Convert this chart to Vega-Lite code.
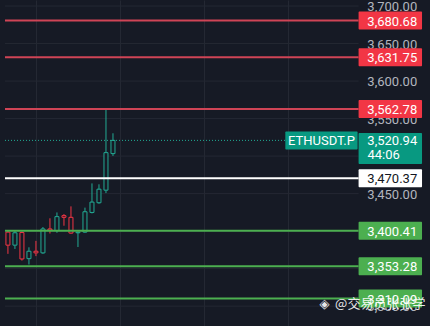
{
  "$schema": "https://vega.github.io/schema/vega-lite/v6.json",
  "width": 430,
  "height": 326,
  "autosize": {"type": "fit", "contains": "padding"},
  "padding": 0,
  "background": "#161a25",
  "config": {
    "view": {"stroke": null},
    "axis": {"gridColor": "#242833", "gridWidth": 1, "domain": false, "ticks": false}
  },
  "datasets": {
    "candles": [
      {"i": 1, "open": 3398.7, "high": 3400.5, "low": 3369.7, "close": 3381.3},
      {"i": 2, "open": 3381.3, "high": 3401.2, "low": 3376.2, "close": 3397.8},
      {"i": 3, "open": 3398.1, "high": 3399.5, "low": 3360.7, "close": 3362.9},
      {"i": 4, "open": 3363.3, "high": 3378.4, "low": 3355.5, "close": 3373.2},
      {"i": 5, "open": 3373.2, "high": 3387.0, "low": 3366.7, "close": 3371.0},
      {"i": 6, "open": 3371.0, "high": 3405.5, "low": 3369.7, "close": 3402.9},
      {"i": 7, "open": 3402.9, "high": 3417.1, "low": 3396.8, "close": 3401.2},
      {"i": 8, "open": 3400.7, "high": 3424.9, "low": 3397.8, "close": 3419.3},
      {"i": 9, "open": 3420.6, "high": 3422.7, "low": 3407.2, "close": 3418.4},
      {"i": 10, "open": 3418.4, "high": 3433.0, "low": 3396.5, "close": 3397.4},
      {"i": 11, "open": 3397.8, "high": 3399.2, "low": 3378.8, "close": 3398.7},
      {"i": 12, "open": 3398.7, "high": 3431.3, "low": 3397.8, "close": 3425.8},
      {"i": 13, "open": 3424.9, "high": 3463.6, "low": 3423.6, "close": 3438.7},
      {"i": 14, "open": 3437.8, "high": 3462.4, "low": 3436.5, "close": 3455.9},
      {"i": 15, "open": 3454.6, "high": 3562.7, "low": 3450.7, "close": 3504.6},
      {"i": 16, "open": 3503.3, "high": 3530.4, "low": 3500.2, "close": 3520.94}
    ],
    "ticks": [
      {"price": 3300, "shown": true}, {"price": 3350, "shown": false}, {"price": 3400, "shown": false},
      {"price": 3450, "shown": true}, {"price": 3500, "shown": false}, {"price": 3550, "shown": true},
      {"price": 3600, "shown": true}, {"price": 3650, "shown": true}, {"price": 3700, "shown": true}
    ],
    "levels": [
      {"price": 3680.68, "kind": "resistance"},
      {"price": 3631.75, "kind": "resistance"},
      {"price": 3562.78, "kind": "resistance"},
      {"price": 3470.37, "kind": "current"},
      {"price": 3400.41, "kind": "support"},
      {"price": 3353.28, "kind": "support"},
      {"price": 3310.09, "kind": "support"}
    ],
    "last": [{"price": 3520.94, "symbol": "ETHUSDT.P", "countdown": "44:06"}],
    "mark": [{"logo": "◈", "label": "@交易员张张学"}]
  },
  "resolve": {"scale": {"color": "independent"}},
  "layer": [
    {
      "data": {"name": "ticks"},
      "mark": {"type": "rule", "strokeWidth": 1, "color": "#242833"},
      "encoding": {
        "x": {"datum": 0.5816, "type": "quantitative",
              "scale": {"domain": [0.5816, 60.554], "nice": false, "zero": false},
              "axis": {"title": null, "orient": "bottom", "values": [5, 17, 29, 41], "labels": false, "grid": true}},
        "x2": {"datum": 51.07},
        "y": {"field": "price", "type": "quantitative",
              "scale": {"domain": [3280.2, 3701.4], "nice": false, "zero": false},
              "axis": null}
      }
    },
    {
      "data": {"name": "ticks"},
      "transform": [{"filter": "datum.shown"}],
      "mark": {"type": "text", "align": "right", "baseline": "middle", "font": "Roboto", "fontSize": 13, "color": "#b2b5be", "clip": true, "dy": 1},
      "encoding": {
        "x": {"datum": 59.44, "type": "quantitative"},
        "y": {"field": "price", "type": "quantitative"},
        "text": {"field": "price", "type": "quantitative", "format": ",.2f"}
      }
    },
    {
      "data": {"name": "candles"},
      "mark": {"type": "rule", "strokeWidth": 1, "clip": true},
      "encoding": {
        "x": {"field": "i", "type": "quantitative"},
        "y": {"field": "low", "type": "quantitative"},
        "y2": {"field": "high"},
        "color": {"condition": {"test": "datum.close >= datum.open", "value": "#22ab94"}, "value": "#f23645"}
      }
    },
    {
      "data": {"name": "candles"},
      "mark": {"type": "bar", "size": 4, "fill": "#161a25", "strokeWidth": 1, "clip": true},
      "encoding": {
        "x": {"field": "i", "type": "quantitative"},
        "y": {"field": "open", "type": "quantitative"},
        "y2": {"field": "close"},
        "stroke": {"condition": {"test": "datum.close >= datum.open", "value": "#22ab94"}, "value": "#f23645"}
      }
    },
    {
      "data": {"name": "levels"},
      "mark": {"type": "rule", "strokeWidth": 2, "clip": true},
      "encoding": {
        "x": {"datum": 0.5816, "type": "quantitative"},
        "x2": {"datum": 51.07},
        "y": {"field": "price", "type": "quantitative"},
        "color": {"field": "kind", "type": "nominal", "legend": null,
                  "scale": {"domain": ["resistance", "current", "support"], "range": ["#cf4456", "#ffffff", "#4caf50"]}}
      }
    },
    {
      "data": {"name": "last"},
      "mark": {"type": "rule", "strokeWidth": 1, "strokeDash": [1, 2], "color": "#22ab94", "clip": true},
      "encoding": {
        "x": {"datum": 0.5816, "type": "quantitative"},
        "x2": {"datum": 40.61},
        "y": {"field": "price", "type": "quantitative"}
      }
    },
    {
      "data": {"name": "levels"},
      "mark": {"type": "bar", "size": 18, "cornerRadius": 1, "clip": true},
      "encoding": {
        "x": {"datum": 51.07, "type": "quantitative"},
        "x2": {"datum": 60.13},
        "y": {"field": "price", "type": "quantitative"},
        "color": {"field": "kind", "type": "nominal", "legend": null,
                  "scale": {"domain": ["resistance", "current", "support"], "range": ["#f23645", "#ffffff", "#4caf50"]}}
      }
    },
    {
      "data": {"name": "levels"},
      "mark": {"type": "text", "align": "right", "baseline": "middle", "font": "Roboto", "fontSize": 13, "dy": 1},
      "encoding": {
        "x": {"datum": 59.44, "type": "quantitative"},
        "y": {"field": "price", "type": "quantitative"},
        "text": {"field": "price", "type": "quantitative", "format": ",.2f"},
        "color": {"field": "kind", "type": "nominal", "legend": null,
                  "scale": {"domain": ["resistance", "current", "support"], "range": ["#ffffff", "#131722", "#ffffff"]}}
      }
    },
    {
      "data": {"name": "last"},
      "mark": {"type": "bar", "size": 18, "color": "#089981", "cornerRadius": 1},
      "encoding": {
        "x": {"datum": 40.61, "type": "quantitative"},
        "x2": {"datum": 50.93},
        "y": {"field": "price", "type": "quantitative"}
      }
    },
    {
      "data": {"name": "last"},
      "mark": {"type": "bar", "size": 31, "color": "#089981", "yOffset": 8, "cornerRadius": 1},
      "encoding": {
        "x": {"datum": 51.07, "type": "quantitative"},
        "x2": {"datum": 60.13},
        "y": {"field": "price", "type": "quantitative"}
      }
    },
    {
      "data": {"name": "last"},
      "mark": {"type": "text", "align": "center", "baseline": "middle", "font": "Roboto", "fontSize": 13, "color": "#ffffff", "dy": 1},
      "encoding": {
        "x": {"datum": 45.77, "type": "quantitative"},
        "y": {"field": "price", "type": "quantitative"},
        "text": {"field": "symbol"}
      }
    },
    {
      "data": {"name": "last"},
      "mark": {"type": "text", "align": "right", "baseline": "middle", "font": "Roboto", "fontSize": 13, "color": "#ffffff", "dy": 1},
      "encoding": {
        "x": {"datum": 59.44, "type": "quantitative"},
        "y": {"field": "price", "type": "quantitative"},
        "text": {"field": "price", "type": "quantitative", "format": ",.2f"}
      }
    },
    {
      "data": {"name": "last"},
      "mark": {"type": "text", "align": "left", "baseline": "middle", "font": "Roboto", "fontSize": 13, "color": "#ffffff", "dy": 15},
      "encoding": {
        "x": {"datum": 52.33, "type": "quantitative"},
        "y": {"field": "price", "type": "quantitative"},
        "text": {"field": "countdown"}
      }
    },
    {
      "data": {"name": "mark"},
      "mark": {"type": "text", "align": "center", "baseline": "middle", "font": "DejaVu Sans", "fontSize": 13, "color": "#ffffff", "opacity": 0.9},
      "encoding": {
        "x": {"datum": 46.2, "type": "quantitative"},
        "y": {"datum": 3302.2, "type": "quantitative"},
        "text": {"field": "logo"}
      }
    },
    {
      "data": {"name": "mark"},
      "mark": {"type": "text", "align": "left", "baseline": "middle", "font": "Noto Sans CJK SC", "fontSize": 13, "color": "#ffffff", "opacity": 0.9},
      "encoding": {
        "x": {"datum": 47.72, "type": "quantitative"},
        "y": {"datum": 3302.2, "type": "quantitative"},
        "text": {"field": "label"}
      }
    }
  ]
}
